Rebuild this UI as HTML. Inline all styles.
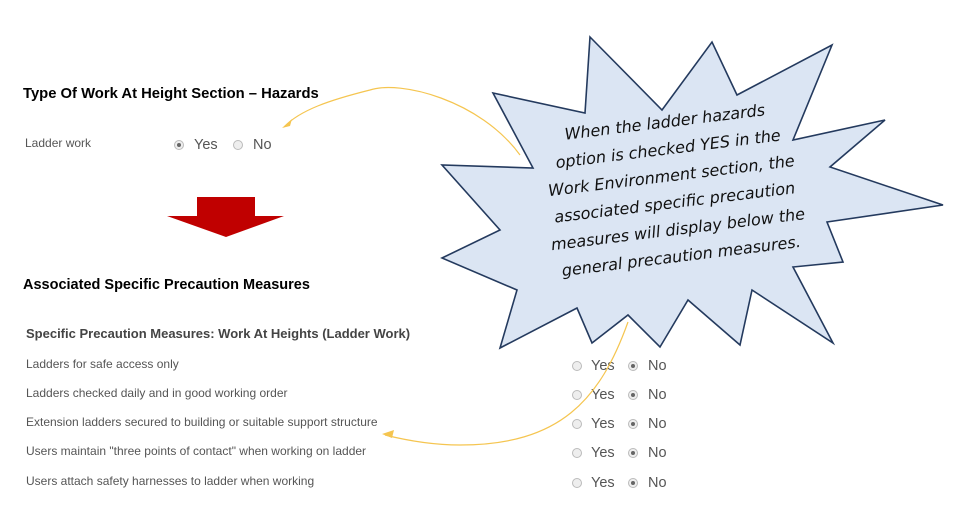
<!DOCTYPE html>
<html><head><style>
body{margin:0;width:965px;height:518px;background:#fff;position:relative;overflow:hidden;font-family:"Liberation Sans",Arial,sans-serif}
.a{position:absolute;white-space:nowrap}
.h{font-weight:bold;font-size:14.5px;color:#000}
.l{font-size:12px;color:#555}
.r{position:absolute;width:10px;height:10px;border-radius:50%;border:1px solid #bbb;background:#eee;box-sizing:border-box}
.r.on::after{content:"";position:absolute;left:2px;top:2px;width:4px;height:4px;border-radius:50%;background:#666}
.o{font-size:14.5px;color:#555}
</style></head><body>
<div class="a h" style="left:23px;top:86px;font-size:14.8px">Type Of Work At Height Section – Hazards</div>
<div class="a l" style="left:25px;top:136px">Ladder work</div>
<div class="r on" style="left:174px;top:140px"></div><div class="a o" style="left:194px;top:137px">Yes</div>
<div class="r" style="left:233px;top:140px"></div><div class="a o" style="left:253px;top:137px">No</div>

<div class="a h" style="left:23px;top:277px">Associated Specific Precaution Measures</div>
<div class="a" style="left:26px;top:326px;font-size:13px;font-weight:bold;color:#444">Specific Precaution Measures: Work At Heights (Ladder Work)</div>
<div class="a l" style="left:26px;top:357px">Ladders for safe access only</div>
<div class="a l" style="left:26px;top:386px">Ladders checked daily and in good working order</div>
<div class="a l" style="left:26px;top:415px">Extension ladders secured to building or suitable support structure</div>
<div class="a l" style="left:26px;top:444px">Users maintain "three points of contact" when working on ladder</div>
<div class="a l" style="left:26px;top:474px">Users attach safety harnesses to ladder when working</div>

<div class="r" style="left:572px;top:361px"></div><div class="a o" style="left:591px;top:358px">Yes</div><div class="r on" style="left:628px;top:361px"></div><div class="a o" style="left:648px;top:358px">No</div>
<div class="r" style="left:572px;top:390px"></div><div class="a o" style="left:591px;top:387px">Yes</div><div class="r on" style="left:628px;top:390px"></div><div class="a o" style="left:648px;top:387px">No</div>
<div class="r" style="left:572px;top:419px"></div><div class="a o" style="left:591px;top:416px">Yes</div><div class="r on" style="left:628px;top:419px"></div><div class="a o" style="left:648px;top:416px">No</div>
<div class="r" style="left:572px;top:448px"></div><div class="a o" style="left:591px;top:445px">Yes</div><div class="r on" style="left:628px;top:448px"></div><div class="a o" style="left:648px;top:445px">No</div>
<div class="r" style="left:572px;top:478px"></div><div class="a o" style="left:591px;top:475px">Yes</div><div class="r on" style="left:628px;top:478px"></div><div class="a o" style="left:648px;top:475px">No</div>

<svg class="a" style="left:0;top:0" width="965" height="518">
<polygon points="197,197 255,197 255,216 284,216 226,237 167,216 197,216" fill="#c00000"/>
<path d="M520,155 C480,100 400,80 370,90 C330,100 300,110 284,127" fill="none" stroke="#f5c550" stroke-width="1.2"/>
<polygon points="282,128 292,119 290,126" fill="#f5c550"/>
<path d="M628,322 C600,400 560,445 460,445 C430,445 405,440 385,435" fill="none" stroke="#f5c550" stroke-width="1.2"/>
<polygon points="382,434 394,430 392,438" fill="#f5c550"/>
<polygon points="590,37 662,110 712,42 737,95 832,45 793,140 885,120 830,167 943,205 827,222 843,262 793,267 833,343 752,290 740,345 688,300 660,347 628,315 592,343 577,308 500,348 517,290 442,258 500,230 442,165 533,168 493,93 585,113" fill="#dbe5f3" stroke="#243a5e" stroke-width="1.6" stroke-linejoin="miter"/>
</svg>
<div class="a" style="left:523px;top:108px;width:300px;text-align:center;transform:rotate(-7deg);font-family:'DejaVu Sans',sans-serif;font-style:oblique;font-size:16px;line-height:27px;color:#111;white-space:normal">When the ladder hazards<br>option is checked YES in the<br>Work Environment section, the<br>associated specific precaution<br>measures will display below the<br>general precaution measures.</div>
</body></html>
